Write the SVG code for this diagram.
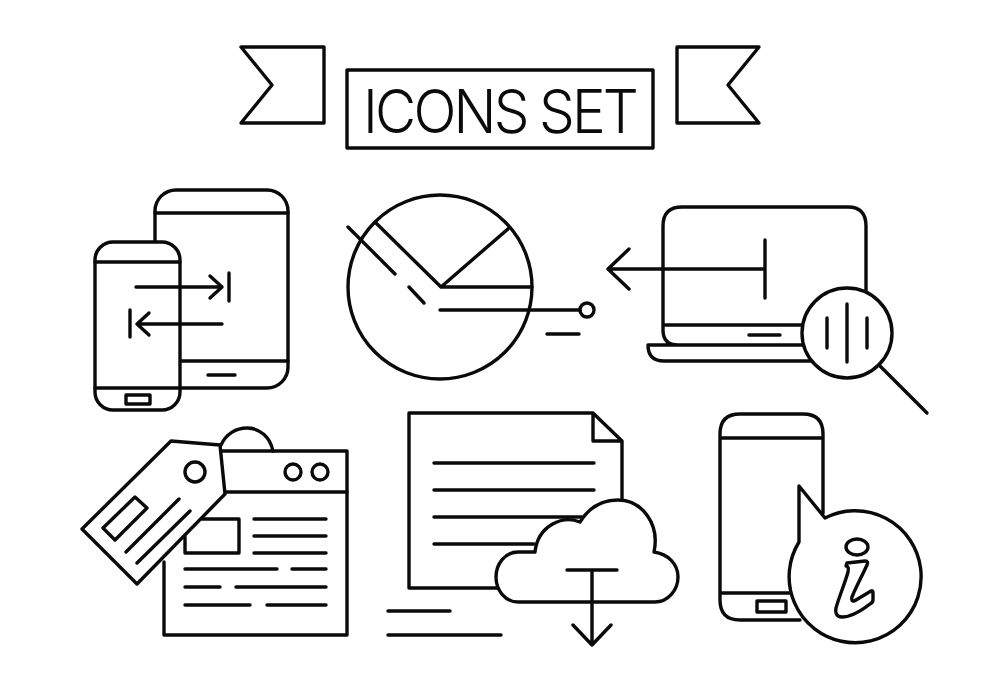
<svg xmlns="http://www.w3.org/2000/svg" width="1000" height="700" viewBox="0 0 1000 700">
<style>
.s{fill:none;stroke:#0a0a0a;stroke-width:3.4;stroke-linecap:round;stroke-linejoin:round}
.f{fill:#fff;stroke:#0a0a0a;stroke-width:3.4;stroke-linecap:round;stroke-linejoin:round}
.t{font-family:"Inter","Liberation Sans",sans-serif;font-weight:300;font-size:61px;fill:#0a0a0a;letter-spacing:-3px;word-spacing:-1px}
</style>
<rect width="1000" height="700" fill="#fff"/>
<g id="banner">
<path class="s" d="M241 47H324V123H241L272 85Z"/>
<path class="s" d="M677 47H759L728 85L759 123H677Z"/>
<rect class="s" x="347" y="70" width="306" height="78"/>
<text class="t" x="363" y="133" textLength="273" lengthAdjust="spacingAndGlyphs">ICONS SET</text>
</g>
<g id="devices">
<rect class="f" x="155" y="190" width="133" height="198" rx="21"/>
<path class="s" d="M155 213H288M180 361H288M208 375H235"/>
<rect class="f" x="95" y="242" width="85" height="168" rx="18"/>
<path class="s" d="M95 262H180M95 388H180"/>
<rect class="s" x="126" y="395" width="24" height="9"/>
<path class="s" d="M136 287H222M210 276L222 287L210 298M229 273V301"/>
<path class="s" d="M222 324H137M149 313L137 324L149 335M130 310V337"/>
</g>
<g id="chart">
<circle class="s" cx="440" cy="287" r="92"/>
<path class="s" d="M376 223L441 287L509 228M441 287H532"/>
<path class="s" d="M440 310H580M547 334H579M348 227L395 274M409 287L424 303"/>
<circle class="s" cx="587" cy="310" r="7"/>
</g>
<g id="laptop">
<path class="s" d="M663 325V226Q663 207 682 207H848Q866 207 866 226V292M663 325H802M663 325V330Q663 345 678 345H803M648 345H678M648 345Q648 361 664 361H811M749 335H780"/>
<path class="s" d="M608 269H765M629 249L608 269L629 289M765 240V298"/>
<circle class="f" cx="847" cy="333" r="45"/>
<path class="s" d="M827 318V348M847 304V362M867 318V348M880 366L927 413"/>
</g>
<g id="browser">
<path class="f" d="M222 451H347V635H164V562"/>
<path class="s" d="M226 492H347"/>
<path class="s" d="M221 445C226 434 236 428 247 428C260 428 270 437 273 451"/>
<circle class="s" cx="293" cy="472" r="8"/>
<circle class="s" cx="320" cy="472" r="8"/>
<path class="s" d="M202 519H239V553H185V537"/>
<path class="s" d="M254 519H326M254 536H326M254 553H326M185 569H277M292 569H326M185 587H220M236 587H326M185 605H250M267 605H326"/>
<path class="s" d="M171 441L220 445L225 494L137 584L82 529Z"/>
<circle class="s" cx="195" cy="472" r="10"/>
<path class="s" d="M135 497L147 508L115 540L103 528Z"/>
<path class="s" d="M126 552L179 499M137 563L190 511"/>
</g>
<g id="document">
<path class="s" d="M622 500V441L593 413H409V588H497M593 413V441H622"/>
<path class="s" d="M434 463H594M434 490H594M434 517H582M434 544H534"/>
<path class="f" d="M518 602H655C668 602 678 590 678 577C678 564 668 554 654 552C660 524 642 500 618 500C601 500 588 509 580 522C563 515 538 525 535 552H518C505 552 496 564 496 577C496 590 505 602 518 602Z"/>
<path class="s" d="M567 570H617M592 570V645M573 625L592 645L611 625M388 611H450M388 635H501"/>
</g>
<g id="phone-info">
<path class="s" d="M823 513V434Q823 414 803 414H740Q720 414 720 434V600Q720 620 740 620H800M720 438H823M720 593H790"/>
<rect class="s" x="757" y="601" width="29" height="11"/>
<path class="f" d="M799 486L825 518A66 66 0 1 1 799 542Z"/>
<ellipse class="s" cx="857" cy="547" rx="11" ry="8"/>
<path class="s" d="M847 563L865 561C868 561 868 563 867 565C862 576 856 587 852 597C851 601 853 602 856 600L871 591C873 590 873 592 873 594V600C873 602 872 603 870 604C861 611 850 617 842 617C836 617 835 612 836 608C839 597 845 583 848 572C849 568 848 566 846 566Z"/>
</g>
</svg>
